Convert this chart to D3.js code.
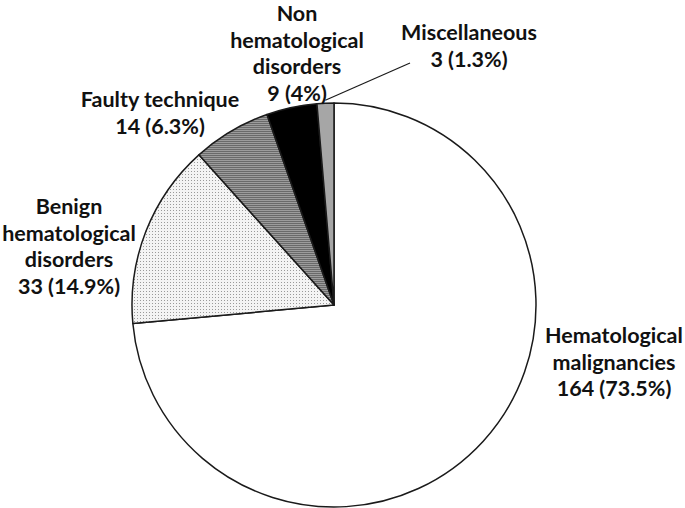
<!DOCTYPE html>
<html>
<head>
<meta charset="utf-8">
<script src="https://cdn.jsdelivr.net/npm/d3@7"></script>
<style>
  body { margin: 0; background: #fff; }
  text { font-family: Lato, "Open Sans", sans-serif; font-weight: bold; fill: #111; }
</style>
</head>
<body>
<svg id="chart" width="685" height="508"></svg>
<script>
var categories = ["Hematological malignancies", "Benign hematological disorders",
  "Faulty technique", "Non hematological disorders", "Miscellaneous"];
var counts = [164, 33, 14, 9, 3];
var percents = ["73.5%", "14.9%", "6.3%", "4%", "1.3%"];
var labelLines = [
  ["Hematological", "malignancies"],
  ["Benign", "hematological", "disorders"],
  ["Faulty technique"],
  ["Non", "hematological", "disorders"],
  ["Miscellaneous"]
];
var fills = ["#ffffff", "url(#dots)", "url(#hatch)", "#000000", "#a6a6a6"];

var width = 685, height = 508;
var cx = 334, cy = 305, radius = 202;

var svg = d3.select('#chart');

// patterns
var defs = svg.append('defs');
var dots = defs.append('pattern')
    .attr('id', 'dots')
    .attr('patternUnits', 'userSpaceOnUse')
    .attr('width', 3).attr('height', 3);
dots.append('rect').attr('width', 3).attr('height', 3).attr('fill', '#f4f4f4');
dots.append('rect').attr('x', 1).attr('y', 1).attr('width', 1).attr('height', 1).attr('fill', '#9a9a9a');

var hatch = defs.append('pattern')
    .attr('id', 'hatch')
    .attr('patternUnits', 'userSpaceOnUse')
    .attr('width', 4).attr('height', 2);
hatch.append('rect').attr('width', 4).attr('height', 2).attr('fill', '#9c9c9c');
hatch.append('rect').attr('width', 4).attr('height', 1).attr('fill', '#6a6a6a');

var data = categories.map(function(c, i) {
  return { name: c, value: counts[i], pct: percents[i], lines: labelLines[i], fill: fills[i] };
});

var pie = d3.pie()
    .value(function(d) { return d.value; })
    .sort(null);

var arc = d3.arc()
    .innerRadius(0)
    .outerRadius(radius);

var g = svg.append('g')
    .attr('transform', 'translate(' + cx + ',' + cy + ')');

g.selectAll('path.slice')
    .data(pie(data))
    .enter()
    .append('path')
    .attr('class', 'slice')
    .attr('d', arc)
    .attr('fill', function(d) { return d.data.fill; })
    .attr('stroke', '#1a1a1a')
    .attr('stroke-width', 1.5)
    .attr('stroke-linejoin', 'round');

// label anchor positions (centre x, baseline of first line)
var labelPos = [
  [614, 343],
  [69, 214],
  [160, 107],
  [297, 21],
  [469, 40]
];
var lineH = 26.5;

svg.selectAll('text.label')
    .data(data)
    .enter()
    .append('text')
    .attr('class', 'label')
    .attr('text-anchor', 'middle')
    .attr('font-size', '21.5px')
    .each(function(d, i) {
      var t = d3.select(this);
      var rows = d.lines.concat([d.value + ' (' + d.pct + ')']);
      rows.forEach(function(r, j) {
        t.append('tspan')
            .attr('x', labelPos[i][0])
            .attr('y', labelPos[i][1] + j * lineH)
            .text(r);
      });
    });

// leader line for Miscellaneous
var misc = pie(data)[4];
var mid = (misc.startAngle + misc.endAngle) / 2;
svg.append('line')
    .attr('x1', cx + Math.sin(mid) * (radius + 3))
    .attr('y1', cy - Math.cos(mid) * (radius + 3))
    .attr('x2', 410)
    .attr('y2', 63)
    .attr('stroke', '#1a1a1a')
    .attr('stroke-width', 1.2);
</script>
</body>
</html>
